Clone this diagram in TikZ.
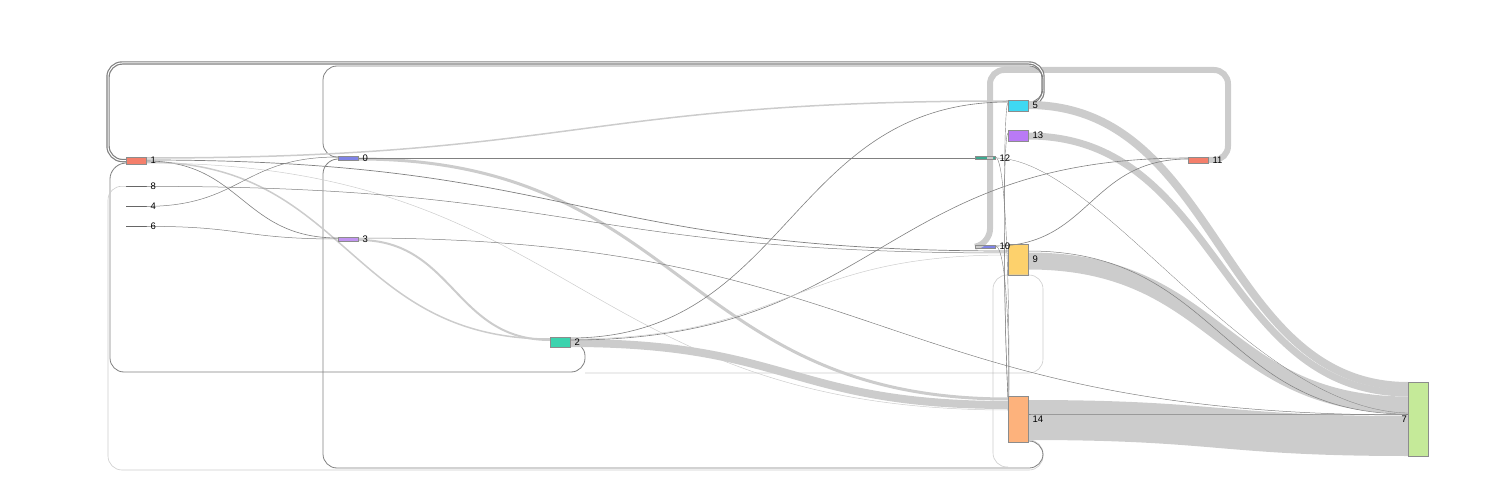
\documentclass[tikz,border=0pt]{standalone}
\usepackage{fontspec}
\setmainfont{Liberation Sans}
\usetikzlibrary{calc}
\definecolor{cSal}{HTML}{F47F6B}
\definecolor{cBlu}{HTML}{7F84E6}
\definecolor{cLav}{HTML}{C195F0}
\definecolor{cTeal}{HTML}{3CD3AE}
\definecolor{cCyan}{HTML}{3FD8F2}
\definecolor{cPur}{HTML}{B97AF5}
\definecolor{cTeal2}{HTML}{3DA98F}
\definecolor{cYel}{HTML}{FDD16C}
\definecolor{cOra}{HTML}{FDB27C}
\definecolor{cGrn}{HTML}{C5EA99}
\begin{document}
\begin{tikzpicture}[x=1pt,y=-1pt,
  nd/.style={draw=black!45,line width=0.4pt,minimum width=20pt,inner sep=0pt,anchor=north west},
  lab/.style={font=\fontsize{9.5}{10}\selectfont,anchor=west,inner sep=1pt,xshift=3pt},
  lt/.style={draw=black!20,line width=#1},
  dk/.style={draw=black!50,line width=#1},
  loopl/.style={draw=black!20,line width=#1,rounded corners=14pt},
  loopd/.style={draw=black!50,line width=#1,rounded corners=14pt}]
\useasboundingbox (0,0) rectangle (1500,500);
% nodes
\node[nd,fill=cSal,minimum height=7pt] (n1) at (126,157) {};
\node[nd,fill=cBlu,minimum height=4pt] (n0) at (338,156) {};
\node[nd,draw=black!60,minimum height=0.4pt] (n8) at (126,186) {};
\node[nd,draw=black!60,minimum height=0.4pt] (n4) at (126,206) {};
\node[nd,draw=black!60,minimum height=0.4pt] (n6) at (126,226) {};
\node[nd,fill=cLav,minimum height=4pt] (n3) at (338,237) {};
\node[nd,fill=cTeal,minimum height=10pt] (n2) at (550,337) {};
\node[nd,fill=cCyan,minimum height=11pt] (n5) at (1008,100) {};
\node[nd,fill=cPur,minimum height=11pt] (n13) at (1008,130) {};
\node[nd,fill=cTeal2,minimum height=3pt] (n12) at (975,156) {};
\node[nd,fill=cBlu,minimum height=3pt] (n10) at (975,245) {};
\node[nd,fill=cYel,minimum height=31pt] (n9) at (1008,244) {};
\node[nd,fill=cOra,minimum height=46pt] (n14) at (1008,396) {};
\node[nd,fill=cSal,minimum height=6pt] (n11) at (1188,157) {};
\node[nd,fill=cGrn,minimum height=74pt] (n7) at (1408,382) {};
% loops
\draw[loopl=6pt] ($(n11.north east)+(0,3)$) -- (1228,160) -- (1228,70) -- (990,70) -- (990,243) -- (n10.west);
\draw[loopd=1.2pt,double=white,double distance=1pt] ($(n5.north east)+(0,5)$) -- (1043,105) -- (1043,63) -- (108,63) -- (108,160) -- (n1.west);
\draw[loopd=0.8pt] ($(n5.north east)+(0,2)$) -- (1043,102) -- (1043,66) -- (323,66) -- (323,157) -- ($(n0.north west)+(0,1)$);
\draw[loopd=0.8pt] ($(n2.north east)+(0,5)$) -- (585,342) -- (585,372) -- (110,372) -- (110,165) -- ($(n1.north west)+(0,6)$);
\draw[loopl=0.6pt] ($(n14.north east)+(0,44)$) -- (1043,440) -- (1043,470) -- (108,470) -- (108,186) -- (n8.west);
\draw[loopd=0.8pt] ($(n14.north east)+(0,45)$) -- (1043,441) -- (1043,468) -- (323,468) -- (323,160) -- ($(n0.north west)+(0,3)$);
\draw[loopl=0.6pt] (585,373) -- (1043,373) -- (1043,275) -- (993,275) -- (993,467) -- (1008,467);
% bands
\draw[lt=40pt] ($(n14.north east)+(0,24)$) .. controls (1220,420) and (1220,436) .. ($(n7.north west)+(0,54)$);
\draw[lt=17pt] ($(n9.north east)+(0,17)$) .. controls (1220,261) and (1220,405) .. ($(n7.north west)+(0,23)$);
\draw[lt=8pt] ($(n5.north east)+(0,5)$) .. controls (1220,105) and (1220,386) .. ($(n7.north west)+(0,4)$);
\draw[lt=7pt] ($(n13.north east)+(0,6)$) .. controls (1220,136) and (1220,393) .. ($(n7.north west)+(0,11)$);
\draw[lt=8pt] ($(n2.north east)+(0,6)$) .. controls (790,343) and (790,405) .. ($(n14.north west)+(0,9)$);
\draw[lt=3pt] ($(n0.north east)+(0,3)$) .. controls (683,159) and (683,399) .. ($(n14.north west)+(0,3)$);
\draw[lt=2pt] ($(n3.north east)+(0,3)$) .. controls (454,240) and (454,340) .. ($(n2.north west)+(0,3)$);
\draw[lt=1.5pt] ($(n1.north east)+(0,5)$) .. controls (348,162) and (348,339) .. ($(n2.north west)+(0,2)$);
\draw[lt=1.5pt] ($(n1.north east)+(0,1)$) .. controls (577,158) and (577,101) .. ($(n5.north west)+(0,1)$);
% thin lines
\draw[dk=0.7pt] ($(n1.north east)+(0,3)$) .. controls (577,160) and (577,251) .. ($(n9.north west)+(0,7)$);
\draw[dk=0.6pt] ($(n1.north east)+(0,4)$) .. controls (242,161) and (242,238) .. ($(n3.north west)+(0,1)$);
\draw[lt=0.5pt] ($(n1.north east)+(0,6)$) .. controls (577,163) and (577,410) .. ($(n14.north west)+(0,14)$);
\draw[dk=0.6pt] ($(n0.north east)+(0,2)$) -- ($(n12.north west)+(0,2)$);
\draw[dk=0.5pt] (n4.east) .. controls (242,206) and (242,157) .. ($(n0.north west)+(0,1)$);
\draw[dk=0.5pt] (n8.east) .. controls (577,186) and (577,253) .. ($(n9.north west)+(0,9)$);
\draw[dk=0.5pt] (n6.east) .. controls (242,226) and (242,239) .. ($(n3.north west)+(0,2)$);
\draw[dk=0.5pt] ($(n3.north east)+(0,1)$) .. controls (883,238) and (883,415) .. ($(n7.north west)+(0,33)$);
\draw[dk=0.6pt] ($(n2.north east)+(0,1)$) .. controls (789,338) and (789,102) .. ($(n5.north west)+(0,2)$);
\draw[dk=0.6pt] ($(n2.north east)+(0,3)$) .. controls (879,340) and (879,158) .. ($(n11.north west)+(0,1)$);
\draw[dk=0.6pt] ($(n11.north west)+(0,2)$) .. controls (1090,159) and (1090,246) .. ($(n10.north east)+(0,1)$);
\draw[lt=0.5pt] ($(n2.north east)+(0,2)$) .. controls (789,339) and (789,255) .. ($(n9.north west)+(0,11)$);
\draw[dk=0.5pt] ($(n9.north east)+(0,7)$) .. controls (1220,251) and (1220,414) .. ($(n7.north west)+(0,32)$);
\draw[dk=0.3pt] ($(n12.north east)+(0,2)$) .. controls (1100,158) and (1250,410) .. ($(n7.north west)+(0,31)$);
\draw[dk=0.4pt] ($(n12.north east)+(0,1)$) .. controls (1010,158) and (1010,410) .. ($(n14.north west)+(0,14)$);
\draw[dk=0.4pt] ($(n10.north east)+(0,1)$) .. controls (1010,246) and (1010,410) .. ($(n14.north west)+(0,14)$);
\draw[dk=0.4pt] ($(n13.north west)+(0,3)$) .. controls (1003,133) and (1003,300) .. ($(n14.north west)+(0,2)$);
\draw[dk=0.4pt] ($(n5.north west)+(0,3)$) .. controls (1003,103) and (1003,300) .. ($(n14.north west)+(0,2)$);
\draw[dk=0.5pt] ($(n14.north east)+(0,18)$) .. controls (1220,414) and (1220,414) .. ($(n7.north west)+(0,32)$);
% node outlines on top
\foreach \n in {1,0,3,2,5,13,12,10,9,14,11,7}{\draw[black!45,line width=0.4pt] (n\n.north west) rectangle (n\n.south east);}
\foreach \n in {1,0,8,4,6,3,2,5,13,12,10,9,14,11}{\node[lab] at (n\n.east) {\n};}
\node[lab,anchor=east,xshift=-3pt] at (n7.west) {7};
\end{tikzpicture}
\end{document}
